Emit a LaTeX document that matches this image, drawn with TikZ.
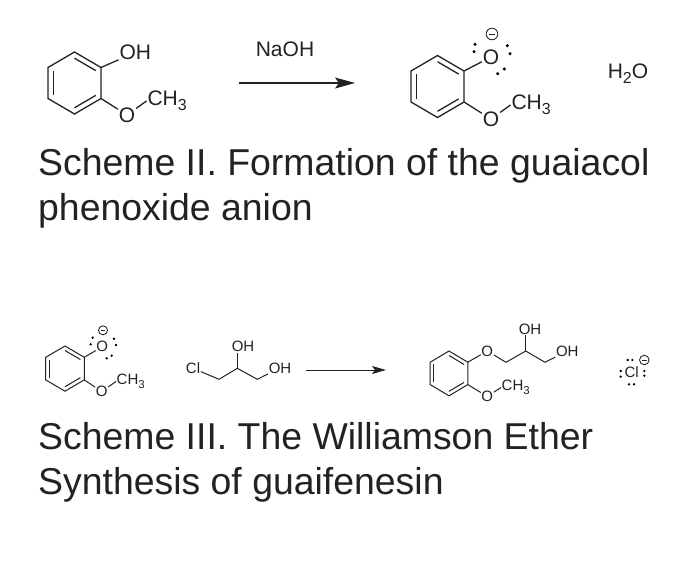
\documentclass[tikz,border=0pt]{standalone}
\usepackage{fontspec}
\setmainfont{Liberation Sans}
\usetikzlibrary{calc,arrows.meta}
\definecolor{ink}{HTML}{222222}
\newcommand{\lowsub}[1]{\raisebox{-0.24em}{\scalebox{0.76}{#1}}}
\tikzset{
  bond/.style={draw=ink,line width=1.3pt},
  thinbond/.style={draw=ink,line width=1pt},
  atom/.style={inner sep=0.8pt,text=ink,font=\fontsize{21}{24}\selectfont},
  atomsm/.style={inner sep=0.5pt,text=ink,font=\fontsize{15}{18}\selectfont},
  caption/.style={anchor=base west,inner sep=0pt,text=ink,font=\fontsize{37.4}{42}\selectfont},
  rxn/.style={draw=ink,line width=1.2pt},
  lonepair/.style={fill=black,draw=none},
  charge/.style={draw=ink,line width=0.85pt},
}
% name, top x, top y, half width, quarter height, style
\newcommand{\benzene}[6]{%
  \coordinate (#1a) at (#2,#3);
  \coordinate (#1b) at (#2+#4,#3+#5);
  \coordinate (#1c) at (#2+#4,#3+3*#5);
  \coordinate (#1d) at (#2,#3+4*#5);
  \coordinate (#1e) at (#2-#4,#3+3*#5);
  \coordinate (#1f) at (#2-#4,#3+#5);
  \coordinate (#1o) at (#2,#3+2*#5);
  \draw[#6,line join=miter] (#1a)--(#1b)--(#1c)--(#1d)--(#1e)--(#1f)--cycle;
  \draw[#6] ($(#1a)!.2!(#1o)$)--($(#1b)!.2!(#1o)$);
  \draw[#6] ($(#1c)!.2!(#1o)$)--($(#1d)!.2!(#1o)$);
  \draw[#6] ($(#1e)!.2!(#1o)$)--($(#1f)!.2!(#1o)$);
}
\newcommand{\minuscharge}[4]{%
  \coordinate (#1) at (#2,#3);
  \draw[charge] (#1) circle (#4);
  \draw[charge] ($(#1)+(-#4*0.55,0)$)--($(#1)+(#4*0.55,0)$);
}
\begin{document}
\begin{tikzpicture}[x=1pt,y=-1pt]
\useasboundingbox (0,0) rectangle (700,570);

% guaiacol
\benzene{p}{74.5}{52}{26.5}{15.5}{bond}
\node[atom,anchor=west] (poh) at (118.5,52) {OH};
\node[atom] (pom) at (127,115) {O};
\node[atom,anchor=west] (pch) at (146.5,101) {CH\lowsub{3}};
\draw[bond] (pb)--(poh.205);
\draw[bond] (pc)--(pom);
\draw[bond] (pom)--(pch.west);

% arrow 1
\node[atom] (naoh) at (285,49) {NaOH};
\coordinate (a1s) at (239,83);
\coordinate (a1e) at (355,83);
\draw[rxn,-{Stealth[length=20pt,width=11pt,inset=4pt]}] (a1s)--(a1e);

% phenoxide
\benzene{q}{437.5}{55.5}{26.5}{15.5}{bond}
\node[atom] (qo) at (491,57) {O};
\node[atom] (qom) at (491,119) {O};
\node[atom,anchor=west] (qch) at (510.5,105) {CH\lowsub{3}};
\draw[bond] (qb)--(qo);
\draw[bond] (qc)--(qom);
\draw[bond] (qom)--(qch.west);
\minuscharge{qm}{492}{34}{5.8}
\foreach \x/\y in {475/44.3,474/51.7,507.3/45.7,510/53.7,504.3/69,497.7/73.7}
  \fill[lonepair] (\x,\y) circle (1.7);
\node[atom] (water) at (628,74) {H\lowsub{2}O};

% captions
\node[caption] (cap1a) at (38,175) {Scheme II. Formation of the guaiacol};
\node[caption] (cap1b) at (38,220) {phenoxide anion};

% phenoxide, small
\benzene{r}{65}{346}{19.3}{11.3}{thinbond}
\node[atomsm] (ro) at (102.3,346.7) {O};
\node[atomsm] (rom) at (101.7,391.5) {O};
\node[atomsm,anchor=west] (rch) at (116,381.5) {CH\lowsub{3}};
\draw[thinbond] (rb)--(ro);
\draw[thinbond] (rc)--(rom);
\draw[thinbond] (rom)--(rch.west);
\minuscharge{rm}{103}{330.3}{4.5}
\foreach \x/\y in {92.7/337.7,90.7/344.3,114/338.7,116/345,111.7/355.7,106.7/358.3}
  \fill[lonepair] (\x,\y) circle (1.3);

% chloropropanediol
\node[atomsm] (scl) at (193,368.3) {Cl};
\coordinate (s1) at (219,379.3);
\coordinate (s2) at (237.3,368.3);
\coordinate (s3) at (257.3,379.3);
\node[atomsm] (soh) at (243,346.7) {OH};
\node[atomsm] (soh2) at (280,368.3) {OH};
\draw[thinbond] (scl)--(s1)--(s2)--(s3)--(soh2.205);
\draw[thinbond] (s2)--(s2|-soh.south);

% arrow 2
\coordinate (a2s) at (306,370);
\coordinate (a2e) at (386,370);
\draw[thinbond,-{Stealth[length=14pt,width=8pt,inset=3pt]}] (a2s)--(a2e);

% guaifenesin
\benzene{t}{449}{351}{18.8}{11.2}{thinbond}
\node[atomsm] (tol) at (487.3,351) {O};
\node[atomsm] (tom) at (487.3,396.5) {O};
\node[atomsm,anchor=west] (tch) at (501,387.5) {CH\lowsub{3}};
\coordinate (t1) at (506,362.3);
\coordinate (t2) at (525.7,351);
\coordinate (t3) at (545,362.3);
\node[atomsm] (toh) at (530,329) {OH};
\node[atomsm] (toh2) at (567.3,351.5) {OH};
\draw[thinbond] (tb)--(tol)--(t1)--(t2)--(t3)--(toh2.205);
\draw[thinbond] (t2)--(t2|-toh.south);
\draw[thinbond] (tc)--(tom);
\draw[thinbond] (tom)--(tch.west);

% chloride
\node[atomsm] (ucl) at (631.7,372.3) {Cl};
\minuscharge{um}{644.3}{360}{4.8}
\foreach \x/\y in {627.7/360,632.3/360,620.7/371,620.7/376.7,644.3/371,644.3/375.7,629/384.3,634/384.3}
  \fill[lonepair] (\x,\y) circle (1.3);

% captions
\node[caption] (cap2a) at (38,449) {Scheme III. The Williamson Ether};
\node[caption] (cap2b) at (38,494) {Synthesis of guaifenesin};
\end{tikzpicture}
\end{document}
